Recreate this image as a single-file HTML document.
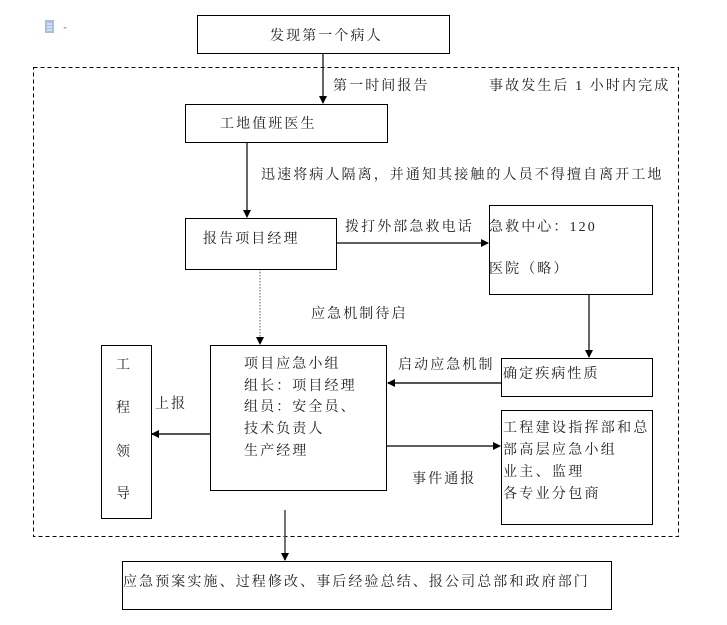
<!DOCTYPE html>
<html><head><meta charset="utf-8"><style>
body{margin:0;width:727px;height:625px;background:#fff;position:relative;overflow:hidden;font-family:"Liberation Serif","Noto Serif CJK SC","Noto Sans CJK SC",serif;font-size:14px;color:#222;letter-spacing:2.1px}
.b{position:absolute;border:1px solid #000;box-sizing:border-box}
.t{position:absolute;white-space:nowrap;line-height:16px}
svg{position:absolute;left:0;top:0}
</style></head><body>
<svg width="727" height="625">
<defs><marker id="a" markerWidth="8" markerHeight="8" refX="7" refY="4" orient="auto" markerUnits="userSpaceOnUse"><path d="M0,0 L8,4 L0,8z" fill="#000"/></marker></defs>
<rect x="33.5" y="67.5" width="645" height="469" fill="none" stroke="#000" stroke-dasharray="4,3"/>
<g stroke="#000" stroke-width="1.2" fill="none" marker-end="url(#a)">
<line x1="323" y1="53" x2="323" y2="103"/>
<line x1="247" y1="142" x2="247" y2="217"/>
<line x1="336" y1="243" x2="488" y2="243"/>
<line x1="589" y1="294" x2="589" y2="357"/>
<line x1="260" y1="269" x2="260" y2="344" stroke="#777" stroke-dasharray="1.5,1.5"/>
<line x1="501" y1="383" x2="388" y2="383" stroke="#555" stroke-width="2"/>
<line x1="210" y1="434" x2="152" y2="434" stroke="#555" stroke-width="2"/>
<line x1="386" y1="446" x2="500" y2="446"/>
<line x1="285" y1="510" x2="285" y2="560" stroke="#444" stroke-width="1.5"/>
</g>
<rect x="45" y="20" width="9" height="13" fill="#a9bfe0"/><path d="M47,24h5M47,27h5M47,30h5" stroke="#fff"/><path d="M63,27l4,0l-2,2z" fill="#aaa"/>
</svg>
<div class="b" style="left:197px;top:15px;width:253px;height:39px"></div><div class="t" style="left:270px;top:29px">发现第一个病人</div>
<div class="t" style="left:333px;top:79px">第一时间报告</div>
<div class="t" style="left:489px;top:79px">事故发生后 1 小时内完成</div>
<div class="b" style="left:185px;top:104px;width:203px;height:39px"></div><div class="t" style="left:220px;top:117px">工地值班医生</div>
<div class="t" style="left:261px;top:168px">迅速将病人隔离，并通知其接触的人员不得擅自离开工地</div>
<div class="b" style="left:185px;top:218px;width:152px;height:52px"></div><div class="t" style="left:203px;top:232px">报告项目经理</div>
<div class="t" style="left:345px;top:220px">拨打外部急救电话</div>
<div class="b" style="left:489px;top:205px;width:164px;height:90px"></div><div class="t" style="left:489px;top:220px">急救中心：120</div><div class="t" style="left:489px;top:262px">医院（略）</div>
<div class="t" style="left:311px;top:307px">应急机制待启</div>
<div class="b" style="left:210px;top:345px;width:177px;height:146px"></div>
<div class="t" style="left:244px;top:354px;line-height:21.7px">项目应急小组<br>组长：项目经理<br>组员：安全员、<br>技术负责人<br>生产经理</div>
<div class="b" style="left:501px;top:358px;width:152px;height:39px"></div><div class="t" style="left:503px;top:367px">确定疾病性质</div>
<div class="t" style="left:398px;top:358px">启动应急机制</div>
<div class="b" style="left:101px;top:345px;width:51px;height:174px"></div>
<div class="t" style="left:116px;top:358px">工</div><div class="t" style="left:116px;top:401px">程</div><div class="t" style="left:116px;top:445px">领</div><div class="t" style="left:116px;top:487px">导</div>
<div class="t" style="left:155px;top:397px">上报</div>
<div class="b" style="left:501px;top:410px;width:152px;height:115px"></div>
<div class="t" style="left:503px;top:418px;line-height:22px;letter-spacing:2.3px">工程建设指挥部和总<br>部高层应急小组<br>业主、监理<br>各专业分包商</div>
<div class="t" style="left:412px;top:472px">事件通报</div>
<div class="b" style="left:122px;top:561px;width:490px;height:49px"></div>
<div class="t" style="left:123px;top:575px">应急预案实施、过程修改、事后经验总结、报公司总部和政府部门</div>
</body></html>
